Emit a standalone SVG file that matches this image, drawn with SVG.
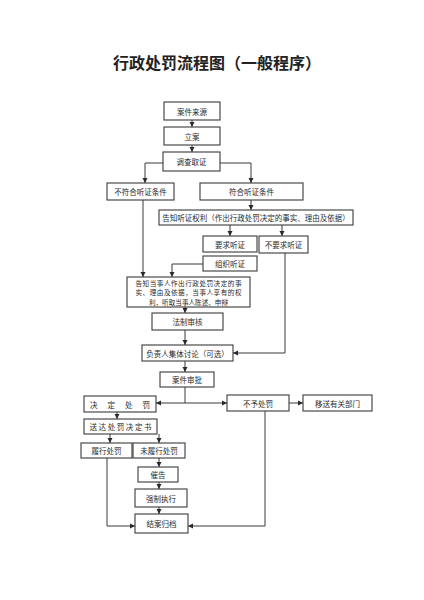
<svg xmlns="http://www.w3.org/2000/svg" width="424" height="600" viewBox="0 0 424 600">
<style>
.b{fill:#fff;stroke:#3a3a3a;stroke-width:1.1}
.t{font-family:"Noto Sans CJK SC","Liberation Sans",sans-serif;font-size:7.5px;fill:#2a2a2a;text-anchor:middle;dominant-baseline:central}
.s{font-size:6.6px}
.c{fill:none;stroke:#3a3a3a;stroke-width:1}
.a{marker-end:url(#ah)}
</style>
<defs>
<marker id="ah" markerWidth="6" markerHeight="6" refX="5" refY="3" orient="auto" markerUnits="userSpaceOnUse">
<path d="M0,0.5 L5,3 L0,5.5 Z" fill="#2a2a2a"/>
</marker>
</defs>
<rect width="424" height="600" fill="#fff"/>
<text x="113" y="69" font-family="Noto Sans CJK SC, sans-serif" font-size="16" font-weight="700" fill="#222">行政处罚流程图（一般程序）</text>

<g id="connectors">
<path class="c a" d="M192,120 V127"/>
<path class="c a" d="M192,145 V152"/>
<path class="c a" d="M163,163 H145 V183"/>
<path class="c a" d="M220,163 H251 V183"/>
<path class="c a" d="M251,200 V210"/>
<path class="c a" d="M230,225 V236"/>
<path class="c a" d="M282,225 V236"/>
<path class="c a" d="M143,200 V277"/>
<path class="c a" d="M203,264 H172 V277"/>
<path class="c a" d="M185,307 V313"/>
<path class="c a" d="M185,330 V345"/>
<path class="c a" d="M285,253 V353 H233"/>
<path class="c a" d="M185,361 V372"/>
<path class="c" d="M185,387 V403"/>
<path class="c a" d="M185,403 H156"/>
<path class="c a" d="M185,403 H227"/>
<path class="c a" d="M289,403 H303"/>
<path class="c a" d="M117,412 V419"/>
<path class="c a" d="M110,434 V443"/>
<path class="c a" d="M159,434 V443"/>
<path class="c a" d="M159,458 V467"/>
<path class="c a" d="M159,482 V489"/>
<path class="c a" d="M159,507 V514"/>
<path class="c a" d="M107,458 V526 H135"/>
<path class="c a" d="M265,411 V526 H188"/>
</g>

<g id="n1"><rect class="b" x="164" y="102" width="56" height="18"/><text class="t" x="192" y="111">案件来源</text></g>
<g id="n2"><rect class="b" x="164" y="127" width="56" height="18"/><text class="t" x="192" y="136">立案</text></g>
<g id="n3"><rect class="b" x="163" y="152" width="57" height="19"/><text class="t" x="191.5" y="161.5">调查取证</text></g>
<g id="n4"><rect class="b" x="107" y="183" width="67" height="17"/><text class="t" x="140.5" y="191.5">不符合听证条件</text></g>
<g id="n5"><rect class="b" x="200" y="183" width="103" height="17"/><text class="t" x="251.5" y="191.5">符合听证条件</text></g>
<g id="n6"><rect class="b" x="159" y="210" width="194" height="15"/><text class="t" x="256" y="217.5">告知听证权利（作出行政处罚决定的事实、理由及依据）</text></g>
<g id="n7"><rect class="b" x="203" y="236" width="54" height="16"/><text class="t" x="230" y="244">要求听证</text></g>
<g id="n8"><rect class="b" x="259" y="236" width="49" height="17"/><text class="t" x="283.5" y="244.5">不要求听证</text></g>
<g id="n9"><rect class="b" x="203" y="256" width="54" height="15"/><text class="t" x="230" y="263.5">组织听证</text></g>
<g id="n10"><rect class="b" x="127" y="277" width="123" height="30"/>
<text class="t s" x="188.5" y="282.5" textLength="106" lengthAdjust="spacing">告知当事人作出行政处罚决定的事</text>
<text class="t s" x="188.5" y="292" textLength="106" lengthAdjust="spacing">实、理由及依据，当事人享有的权</text>
<text class="t s" x="188.5" y="301.5">利，听取当事人陈述、申辩</text></g>
<g id="n11"><rect class="b" x="152" y="313" width="71" height="17"/><text class="t" x="187.5" y="321.5">法制审核</text></g>
<g id="n12"><rect class="b" x="142" y="345" width="91" height="16"/><text class="t" x="187.5" y="353">负责人集体讨论（可选）</text></g>
<g id="n13"><rect class="b" x="160" y="372" width="54" height="15"/><text class="t" x="187" y="379.5">案件审批</text></g>
<g id="n14"><rect class="b" x="84" y="396" width="72" height="16"/><text class="t" x="120" y="404" textLength="60" lengthAdjust="spacing">决 定 处 罚</text></g>
<g id="n15"><rect class="b" x="227" y="395" width="62" height="16"/><text class="t" x="258" y="403">不予处罚</text></g>
<g id="n16"><rect class="b" x="303" y="395" width="69" height="16"/><text class="t" x="337.5" y="403">移送有关部门</text></g>
<g id="n17"><rect class="b" x="84" y="419" width="73" height="15"/><text class="t" x="120.5" y="426.5" textLength="62" lengthAdjust="spacing">送达处罚决定书</text></g>
<g id="n18"><rect class="b" x="81" y="443" width="51" height="15"/><text class="t" x="106.5" y="450.5">履行处罚</text></g>
<g id="n19"><rect class="b" x="133" y="443" width="52" height="15"/><text class="t" x="159" y="450.5">未履行处罚</text></g>
<g id="n20"><rect class="b" x="138" y="467" width="40" height="15"/><text class="t" x="158" y="474.5">催告</text></g>
<g id="n21"><rect class="b" x="135" y="489" width="52" height="18"/><text class="t" x="161" y="498">强制执行</text></g>
<g id="n22"><rect class="b" x="135" y="514" width="53" height="19"/><text class="t" x="161.5" y="523.5">结案归档</text></g>
</svg>
